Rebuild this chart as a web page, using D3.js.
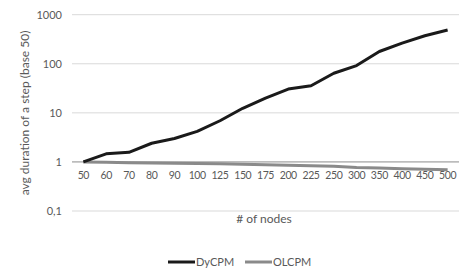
<!DOCTYPE html>
<html><head><meta charset="utf-8">
<script src="https://cdn.jsdelivr.net/npm/d3@7"></script>
<style>body{margin:0;background:#fff}svg{display:block}text{font-family:Lato,"Open Sans",sans-serif;fill:#595959}</style>
</head><body><svg id="c" width="474" height="274"></svg>
<script>
const categories = ["50","60","70","80","90","100","125","150","175","200","225","250","300","350","400","450","500"];
const dycpm = [1,1.46,1.57,2.4,3.0,4.2,6.9,12.4,20,30.5,35.6,64,92,178,264,372,487];
const olcpm = [1,0.98,0.96,0.95,0.94,0.93,0.92,0.9,0.88,0.86,0.84,0.82,0.77,0.75,0.73,0.71,0.69];
const yTicks = [0.1,1,10,100,1000];
const yLabels = ["0,1","1","10","100","1000"];
const seriesNames = ["DyCPM","OLCPM"];
const colors = ["#1a1a1a","#8a8a8a"];

const svg = d3.select("#c");
const x = d3.scaleBand().domain(categories).range([72,459]);
const y = d3.scaleLog().domain([0.1,1000]).range([211,14.7]);

// gridlines
svg.append("g").selectAll("line").data(yTicks.filter(t=>t!==1)).join("line")
  .attr("x1",72).attr("x2",459).attr("y1",d=>y(d)).attr("y2",d=>y(d))
  .attr("stroke","#d9d9d9").attr("stroke-width",1);

// y labels
svg.append("g").selectAll("text").data(yTicks).join("text")
  .attr("x",62).attr("y",d=>y(d)).attr("dy","0.35em").attr("text-anchor","end")
  .attr("font-size",11).text((d,i)=>yLabels[i]);

// category axis at 1
svg.append("line").attr("x1",72).attr("x2",459).attr("y1",y(1)).attr("y2",y(1))
  .attr("stroke","#8c8c8c").attr("stroke-width",1);
svg.append("g").selectAll("text").data(categories).join("text")
  .attr("x",d=>x(d)+x.bandwidth()/2).attr("y",y(1)+13).attr("dy","0.35em")
  .attr("text-anchor","middle").attr("font-size",10.5).attr("letter-spacing","-0.4")
  .text(d=>d);

const line = d3.line().x((d,i)=>x(categories[i])+x.bandwidth()/2).y(d=>y(d));
[olcpm, dycpm].forEach((s,k)=>{
  const idx = k===0?1:0;
  svg.append("path").datum(s).attr("d",line).attr("fill","none")
    .attr("stroke",colors[idx]).attr("stroke-width",3).attr("stroke-linejoin","round");
});

// titles
svg.append("text").attr("transform","translate(25,113) rotate(-90)")
  .attr("text-anchor","middle").attr("dy","0.35em").attr("font-size",12)
  .text("avg duration of a step (base 50)");
svg.append("text").attr("x",264).attr("y",219).attr("text-anchor","middle")
  .attr("dy","0.35em").attr("font-size",12).text("# of nodes");

// legend
const lg = svg.append("g");
const lx = [168,245];
seriesNames.forEach((n,i)=>{
  lg.append("line").attr("x1",lx[i]).attr("x2",lx[i]+27).attr("y1",262).attr("y2",262)
    .attr("stroke",colors[i]).attr("stroke-width",3);
  lg.append("text").attr("x",lx[i]+28).attr("y",262).attr("dy","0.35em")
    .attr("font-size",11).text(n);
});
</script></body></html>
